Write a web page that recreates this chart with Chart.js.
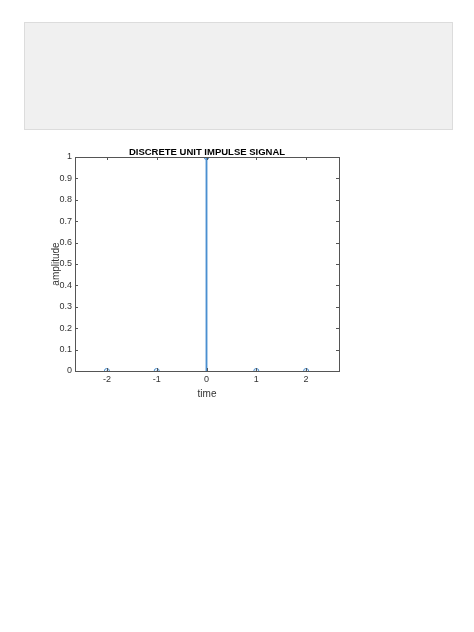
<!DOCTYPE html><html><head><meta charset="utf-8">
<script src="https://cdn.jsdelivr.net/npm/chart.js@4"></script>
<style>body{margin:0;background:#fff;width:474px;height:632px;position:relative;overflow:hidden}
#box{position:absolute;left:24px;top:22px;width:427px;height:106px;background:#f0f0f0;border:1px solid #dcdcdc}
#wrap{position:absolute;left:0;top:140px;width:350px;height:260px}</style></head><body>
<div id="box"></div><div id="wrap"><canvas id="c"></canvas></div>
<script>
const times=[-2,-1,0,1,2];
const amplitude=[0,0,1,0,0];
const xTicks=[-2,-1,0,1,2];
const yTicks=[0,0.1,0.2,0.3,0.4,0.5,0.6,0.7,0.8,0.9,1];
const pts=times.map((t,i)=>({x:t,y:amplitude[i]}));
const col='#4a8fd0';
const frame={id:'frame',afterDraw(ch){const a=ch.chartArea,c=ch.ctx,xs=ch.scales.x,ys=ch.scales.y;c.save();c.strokeStyle='#555';c.lineWidth=1;
c.strokeRect(a.left+.5,a.top+.5,a.right-a.left,a.bottom-a.top);
xTicks.forEach(v=>{const p=Math.round(xs.getPixelForValue(v))+.5;c.beginPath();c.moveTo(p,a.bottom);c.lineTo(p,a.bottom-3);c.moveTo(p,a.top);c.lineTo(p,a.top+3);c.stroke();});
yTicks.forEach(v=>{const p=Math.round(ys.getPixelForValue(v))+.5;c.beginPath();c.moveTo(a.left,p);c.lineTo(a.left+3,p);c.moveTo(a.right,p);c.lineTo(a.right-3,p);c.stroke();});
c.fillStyle='#000';c.font='bold 9.5px "Liberation Sans"';c.textAlign='center';c.textBaseline='bottom';
c.fillText('DISCRETE UNIT IMPULSE SIGNAL',(a.left+a.right)/2,a.top);
c.fillStyle='#333';c.font='10px "Liberation Sans"';c.translate(56,(a.top+a.bottom)/2);c.rotate(-Math.PI/2);c.textBaseline='middle';c.fillText('amplitude',0,0);
c.restore();}};
new Chart(document.getElementById('c'),{data:{datasets:[
{type:'bar',data:pts,backgroundColor:col,barThickness:1.2,grouped:false,order:2},
{type:'scatter',data:pts,pointStyle:'circle',pointRadius:2.5,pointBorderColor:col,pointBackgroundColor:'rgba(0,0,0,0)',pointBorderWidth:1,order:1}]},
options:{responsive:true,maintainAspectRatio:false,animation:false,
layout:{padding:{top:17,right:11,left:0,bottom:0}},
plugins:{legend:{display:false},tooltip:{enabled:false}},
scales:{x:{type:'linear',offset:false,min:-2.64,max:2.66,afterBuildTicks(s){s.ticks=xTicks.map(v=>({value:v}))},afterFit(s){s.height=29},
grid:{display:false,drawTicks:false},border:{display:false},ticks:{color:'#333',font:{family:'Liberation Sans',size:9},padding:3,maxRotation:0},
title:{display:true,text:'time',color:'#333',font:{family:'Liberation Sans',size:10},padding:0}},
y:{min:0,max:1,afterBuildTicks(s){s.ticks=yTicks.map(v=>({value:v}))},afterFit(s){s.width=75},
grid:{display:false,drawTicks:false},border:{display:false},ticks:{color:'#333',font:{family:'Liberation Sans',size:9},padding:3,callback:v=>String(v)}}}},
plugins:[frame]});
</script></body></html>
